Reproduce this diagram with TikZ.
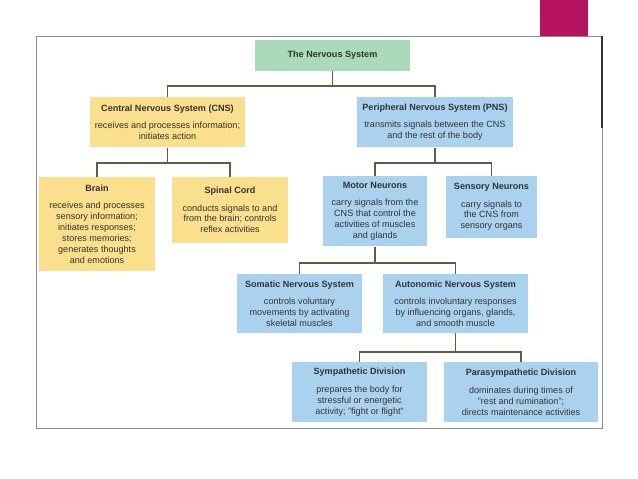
\documentclass[tikz,border=0pt]{standalone}
\usepackage{fontspec}
\setmainfont{Liberation Sans}
\definecolor{nsgreen}{HTML}{AADAB9}
\definecolor{cnsyellow}{HTML}{FAE08C}
\definecolor{pnsblue}{HTML}{AAD2EE}
\definecolor{linkgray}{HTML}{615C48}
\definecolor{slidemagenta}{HTML}{B5135F}

\begin{document}
\begin{tikzpicture}[x=0.75pt,y=-0.75pt,
  box/.style={anchor=north,inner sep=0pt,align=center,text=black!80,
    font=\fontsize{6.8}{8.2}\selectfont},
  cnsbox/.style={box,fill=cnsyellow},
  pnsbox/.style={box,fill=pnsblue},
  link/.style={draw=linkgray,line width=0.8pt}]
\useasboundingbox (0,0) rectangle (638,478);

% slide frame
\fill[slidemagenta] (540,0) rectangle (588,36);
\draw[black!45,line width=0.6pt] (36,36) rectangle (602,428);
\draw[black!80,line width=1.5pt] (602,36) -- (602,128);

% boxes
\node[box,fill=nsgreen,minimum width=116pt,minimum height=23pt] (ns) at (332.5,40)
  {\textbf{The Nervous System}};

\node[cnsbox,minimum width=116pt,minimum height=37.5pt] (cns) at (167.5,97)
  {\textbf{Central Nervous System (CNS)}\\[5pt]receives and processes information;\\initiates action};
\node[pnsbox,minimum width=117pt,minimum height=37.5pt] (pns) at (435,97)
  {\textbf{Peripheral Nervous System (PNS)}\\[5pt]transmits signals between the CNS\\and the rest of the body};

\node[cnsbox,minimum width=87pt,minimum height=70pt] (brain) at (97,177)
  {\textbf{Brain}\\[5pt]receives and processes\\sensory information;\\initiates responses;\\stores memories;\\generates thoughts\\and emotions};
\node[cnsbox,minimum width=87pt,minimum height=49pt] (spinal) at (230,177)
  {\textbf{Spinal Cord}\\[5pt]conducts signals to and\\from the brain; controls\\reflex activities};

\node[pnsbox,minimum width=78pt,minimum height=52.5pt] (motor) at (375,176)
  {\textbf{Motor Neurons}\\[5pt]carry signals from the\\CNS that control the\\activities of muscles\\and glands};
\node[pnsbox,minimum width=68pt,minimum height=46pt] (sensory) at (491.5,176)
  {\textbf{Sensory Neurons}\\[5pt]carry signals to\\the CNS from\\sensory organs};

\node[pnsbox,minimum width=94pt,minimum height=44pt] (somatic) at (299.5,274)
  {\textbf{Somatic Nervous System}\\[5pt]controls voluntary\\movements by activating\\skeletal muscles};
\node[pnsbox,minimum width=109pt,minimum height=44pt] (auto) at (455.5,274)
  {\textbf{Autonomic Nervous System}\\[5pt]controls involuntary responses\\by influencing organs, glands,\\and smooth muscle};

\node[pnsbox,minimum width=101pt,minimum height=45pt] (symp) at (359.5,362)
  {\textbf{Sympathetic Division}\\[5pt]prepares the body for\\stressful or energetic\\activity; "fight or flight"};
\node[pnsbox,minimum width=115.5pt,minimum height=45pt] (para) at (521,362)
  {\textbf{Parasympathetic Division}\\[5pt]dominates during times of\\"rest and rumination";\\directs maintenance activities};

% connectors
\coordinate (nsfork) at (332.5,86);
\coordinate (cnsfork) at (167.5,163);
\coordinate (pnsfork) at (435,163);
\coordinate (motorfork) at (375,263);
\coordinate (autofork) at (455.5,352);

\draw[link] (ns.south) -- (nsfork);
\draw[link] (cns.north) |- (nsfork) -| (pns.north);
\draw[link] (cns.south) -- (cnsfork);
\draw[link] (brain.north) |- (cnsfork) -| (spinal.north);
\draw[link] (pns.south) -- (pnsfork);
\draw[link] (motor.north) |- (pnsfork) -| (sensory.north);
\draw[link] (motor.south) -- (motorfork);
\draw[link] (somatic.north) |- (motorfork) -| (auto.north);
\draw[link] (auto.south) -- (autofork);
\draw[link] (symp.north) |- (autofork) -| (para.north);

\end{tikzpicture}
\end{document}
